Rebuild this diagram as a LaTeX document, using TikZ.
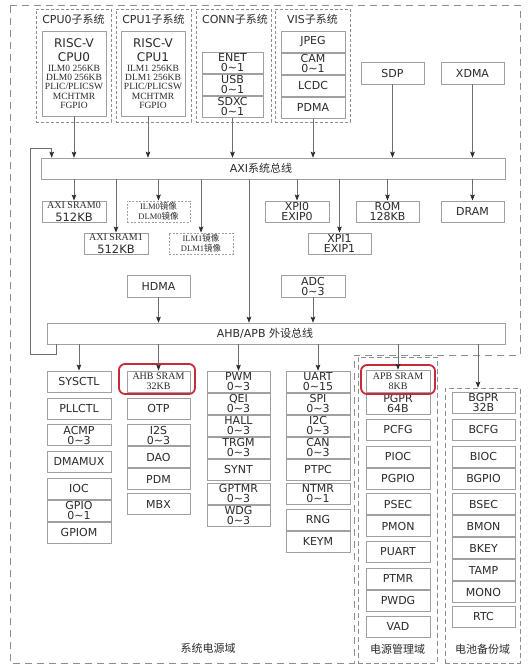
\documentclass[tikz,border=0pt]{standalone}
\usepackage{fontspec}
\setmainfont{DejaVu Sans}
\newfontfamily\cjk{Noto Sans CJK SC}
\newfontfamily\thinserif{Liberation Serif}
\usetikzlibrary{arrows.meta,positioning}
\definecolor{socink}{HTML}{2B2B2B}
\definecolor{socline}{HTML}{A0A0A0}
\definecolor{socwire}{HTML}{6E6E6E}
\definecolor{socdash}{HTML}{8E8E8E}
\definecolor{socred}{HTML}{C62B3B}
\newcommand{\upto}[1]{0\textasciitilde#1}
\newcommand{\tightlines}{\lineskiplimit-20pt\relax}
\newcommand{\thinfont}{\thinserif\fontsize{10}{9}\selectfont}
\newcommand{\cpufont}{\normalfont\fontsize{12}{15}\selectfont}

\begin{document}
\begin{tikzpicture}[
  x=1pt, y=-1pt,
  font=\fontsize{11}{10}\selectfont,
  box/.style={draw=socline, fill=white, text=socink, line width=0.6pt,
    minimum width=64pt, minimum height=21.4pt, inner sep=0pt, align=center,
    font=\fontsize{11}{10}\selectfont\tightlines},
  thinbox/.style={box, font=\thinserif\fontsize{10}{10}\selectfont\tightlines},
  cpubox/.style={box, minimum height=85pt, font=\thinserif\fontsize{9.5}{9}\selectfont\tightlines},
  mirrorbox/.style={box, dash pattern=on 2pt off 1.5pt,
    font=\thinserif\fontsize{8.5}{10}\selectfont\tightlines},
  redring/.style={draw=socred, line width=1.8pt, rounded corners=6pt, inner sep=0pt},
  bus/.style={draw=socline, fill=white, line width=0.6pt, minimum height=21pt, inner sep=0pt},
  bustext/.style={text=socink, inner sep=0pt, font=\fontsize{11}{11}\selectfont},
  subsys/.style={draw=socdash, line width=0.6pt, dash pattern=on 3pt off 2pt,
    minimum width=75pt, minimum height=113pt, inner sep=0pt},
  powerdom/.style={draw=socdash, line width=0.6pt, dash pattern=on 5pt off 3pt, inner sep=0pt},
  caption/.style={text=socink, inner sep=0pt, font=\fontsize{11}{11}\selectfont},
  wire/.style={draw=socwire, line width=0.6pt,
    -{Stealth[length=6pt, width=4.6pt, inset=1.2pt, color=socink]}},
]
\useasboundingbox (0,0) rectangle (531,671);

% ===== power domains =====
\draw[socdash, line width=0.6pt, dash pattern=on 7pt off 5pt]
  (10,5) -- (520,5) -- (520,355) -- (354,355) -- (354,663) -- (10,663) -- cycle;
\node[powerdom, minimum width=79pt, minimum height=306pt] (pmdom) at (397.5,510) {};
\node[powerdom, minimum width=75pt, minimum height=275pt] (batdom) at (482.5,525.5) {};
\node[caption] (syscap) at (208,648) {\cjk 系统电源域};
\node[caption] (pmcap) at (397.5,649) {\cjk 电源管理域};
\node[caption] (batcap) at (482.5,649) {\cjk 电池备份域};

% ===== subsystems =====
\node[subsys] (cpu0sys) at (73.5,65.5) {};
\node[subsys] (cpu1sys) at (153.5,65.5) {};
\node[subsys] (connsys) at (233.5,65.5) {};
\node[subsys] (vissys) at (312.5,65.5) {};
\node[caption] (cpu0cap) at (73.5,19) {CPU0{\cjk 子系统}};
\node[caption] (cpu1cap) at (153.5,19) {CPU1{\cjk 子系统}};
\node[caption] (conncap) at (235,19) {CONN{\cjk 子系统}};
\node[caption] (viscap) at (312.5,19) {VIS{\cjk 子系统}};

\node[cpubox] (cpu0) at (74,73.5)
  {{\cpufont RISC-V}\\[5pt]{\cpufont CPU0}\\[1pt]ILM0 256KB\\DLM0 256KB\\PLIC/PLICSW\\[0.5pt]MCHTMR\\FGPIO};
\node[cpubox] (cpu1) at (153,73.5)
  {{\cpufont RISC-V}\\[5pt]{\cpufont CPU1}\\[1pt]ILM1 256KB\\DLM1 256KB\\PLIC/PLICSW\\[0.5pt]MCHTMR\\FGPIO};

\node[box, minimum width=61pt] (enet) at (232.5,62.7) {ENET\\\upto1};
\node[box, minimum width=61pt, below=0pt of enet] (usb) {USB\\\upto1};
\node[box, minimum width=61pt, below=0pt of usb] (sdxc) {SDXC\\\upto1};

\node[box] (jpeg) at (313,41.7) {JPEG};
\node[box, below=0pt of jpeg] (cam) {CAM\\\upto1};
\node[box, below=0pt of cam] (lcdc) {LCDC};
\node[box, below=0pt of lcdc] (pdma) {PDMA};

\node[box, minimum width=63pt, minimum height=22pt] (sdp) at (392.5,73) {SDP};
\node[box, minimum width=63pt, minimum height=22pt] (xdma) at (472.5,73) {XDMA};

% ===== AXI bus =====
\node[bus, minimum width=464pt] (axibus) at (273,168.5) {};
\node[bustext] (axitext) at ([xshift=-12pt]axibus.center) {AXI{\cjk 系统总线}};

\node[box] (sram0) at (74,211.5) {{\thinfont AXI SRAM0}\\[3pt]{\fontsize{11.5}{10}\selectfont 512KB}};
\node[box] (sram1) at (116,243.5) {{\thinfont AXI SRAM1}\\[3pt]{\fontsize{11.5}{10}\selectfont 512KB}};
\node[mirrorbox, minimum width=63pt] (ilm0) at (158.5,211.5) {ILM0{\cjk 镜像}\\DLM0{\cjk 镜像}};
\node[mirrorbox] (ilm1) at (201,243.5) {ILM1{\cjk 镜像}\\DLM1{\cjk 镜像}};
\node[box] (xpi0) at (297,211.5) {XPI0\\EXIP0};
\node[box, minimum width=63pt] (xpi1) at (339.5,243.5) {XPI1\\EXIP1};
\node[box, minimum width=63pt] (rom) at (387.5,211.5) {ROM\\128KB};
\node[box, minimum width=63pt] (dram) at (472.5,211.5) {DRAM};

\node[box, minimum width=63pt, minimum height=22pt] (hdma) at (158.5,286) {HDMA};
\node[box, minimum height=22pt] (adc) at (313,286) {ADC\\\upto3};

% ===== AHB/APB bus =====
\node[bus, minimum width=458pt] (ahbbus) at (276,333.5) {};
\node[bustext] (ahbtext) at ([xshift=-11pt]ahbbus.center) {AHB/APB {\cjk 外设总线}};

% column 1
\node[box] (sysctl) at (79,381.5) {SYSCTL};
\node[box] (pllctl) at (79,408.5) {PLLCTL};
\node[box] (acmp) at (79,435) {ACMP\\\upto3};
\node[box] (dmamux) at (79,461.5) {DMAMUX};
\node[box] (ioc) at (79,488.8) {IOC};
\node[box, below=0pt of ioc] (gpio) {GPIO\\\upto1};
\node[box, below=0pt of gpio] (gpiom) {GPIOM};

% column 2
\node[thinbox, minimum width=63pt] (ahbsram) at (158.5,381.5) {AHB SRAM\\32KB};
\node[box, minimum width=63pt] (otp) at (158.5,408.5) {OTP};
\node[box, minimum width=63pt] (i2s) at (158.5,435) {I2S\\\upto3};
\node[box, minimum width=63pt, below=0pt of i2s] (dao) {DAO};
\node[box, minimum width=63pt, below=0pt of dao] (pdm) {PDM};
\node[box, minimum width=63pt] (mbx) at (158.5,504) {MBX};

% column 3
\node[box, minimum width=63pt] (pwm) at (238.5,381.7) {PWM\\\upto3};
\node[box, minimum width=63pt, below=0pt of pwm] (qei) {QEI\\\upto3};
\node[box, minimum width=63pt, below=0pt of qei] (hall) {HALL\\\upto3};
\node[box, minimum width=63pt, below=0pt of hall] (trgm) {TRGM\\\upto3};
\node[box, minimum width=63pt, below=0pt of trgm] (synt) {SYNT};
\node[box, minimum width=63pt] (gptmr) at (238.5,493.7) {GPTMR\\\upto3};
\node[box, minimum width=63pt, below=0pt of gptmr] (wdg) {WDG\\\upto3};

% column 4
\node[box] (uart) at (318,381.7) {UART\\\upto{15}};
\node[box, below=0pt of uart] (spi) {SPI\\\upto3};
\node[box, below=0pt of spi] (i2c) {I2C\\\upto3};
\node[box, below=0pt of i2c] (can) {CAN\\\upto3};
\node[box, below=0pt of can] (ptpc) {PTPC};
\node[box] (ntmr) at (318,493.7) {NTMR\\\upto1};
\node[box] (rng) at (318,519.7) {RNG};
\node[box, below=0pt of rng] (keym) {KEYM};

% power management domain
\node[thinbox, minimum height=22pt] (apbsram) at (398,381) {APB SRAM\\8KB};
\node[box, below=0pt of apbsram] (pgpr) {PGPR\\64B};
\node[box] (pcfg) at (398,429.5) {PCFG};
\node[box] (pioc) at (398,456.5) {PIOC};
\node[box, below=0pt of pioc] (pgpio) {PGPIO};
\node[box] (psec) at (398,504) {PSEC};
\node[box, below=0pt of psec] (pmon) {PMON};
\node[box] (puart) at (398,552) {PUART};
\node[box] (ptmr) at (398,578.5) {PTMR};
\node[box, below=0pt of ptmr] (pwdg) {PWDG};
\node[box] (vad) at (398,626.5) {VAD};

% battery backup domain
\node[box, minimum width=63pt] (bgpr) at (483.5,402.5) {BGPR\\32B};
\node[box, minimum width=63pt] (bcfg) at (483.5,429.5) {BCFG};
\node[box, minimum width=63pt] (bioc) at (483.5,456.5) {BIOC};
\node[box, minimum width=63pt, below=0pt of bioc] (bgpio) {BGPIO};
\node[box, minimum width=63pt] (bsec) at (483.5,504) {BSEC};
\node[box, minimum width=63pt, below=0pt of bsec] (bmon) {BMON};
\node[box, minimum width=63pt, below=0pt of bmon] (bkey) {BKEY};
\node[box, minimum width=63pt, below=0pt of bkey] (tamp) {TAMP};
\node[box, minimum width=63pt, below=0pt of tamp] (mono) {MONO};
\node[box, minimum width=63pt] (rtc) at (483.5,616.5) {RTC};

% highlights
\node[redring, minimum width=76pt, minimum height=30pt] (ahbring) at (157,379) {};
\node[redring, minimum width=74pt, minimum height=29pt] (apbring) at (398,379.5) {};

% ===== connectors into the AXI bus =====
\coordinate (cpu1out) at ([xshift=-5pt]cpu1.south);
\draw[wire] (cpu0.south) -- (cpu0.south |- axibus.north);
\draw[wire] (cpu1out) -- (cpu1out |- axibus.north);
\draw[wire] (sdxc.south) -- (sdxc.south |- axibus.north);
\draw[wire] (pdma.south) -- (pdma.south |- axibus.north);
\draw[wire] (sdp.south) -- (sdp.south |- axibus.north);
\draw[wire] (xdma.south) -- (xdma.south |- axibus.north);

% loop back from the AHB bus
\coordinate (loopstart) at ([xshift=10pt]ahbbus.south west);
\coordinate (loopend) at ([xshift=11pt]axibus.north west);
\draw[wire] (loopstart) -- ++(0,10) -| ++(-26,-206) -| (loopend);

% ===== out of the AXI bus =====
\draw[wire] (sram0.north |- axibus.south) -- (sram0.north);
\draw[wire] (sram1.north |- axibus.south) -- (sram1.north);
\draw[wire] (ilm0.north |- axibus.south) -- (ilm0.north);
\draw[wire] (ilm1.north |- axibus.south) -- (ilm1.north);
\draw[wire] (xpi0.north |- axibus.south) -- (xpi0.north);
\draw[wire] (xpi1.north |- axibus.south) -- (xpi1.north);
\draw[wire] (rom.north |- axibus.south) -- (rom.north);
\draw[wire] (dram.north |- axibus.south) -- (dram.north);

\coordinate (bridge) at (249,250);
\draw[wire] (bridge |- axibus.south) -- (bridge |- ahbbus.north);
\draw[wire] (hdma.south) -- (hdma.south |- ahbbus.north);
\draw[wire] (adc.south) -- (adc.south |- ahbbus.north);

% ===== out of the AHB/APB bus =====
\draw[wire] (sysctl.north |- ahbbus.south) -- (sysctl.north);
\draw[wire] (ahbsram.north |- ahbbus.south) -- (ahbsram.north);
\draw[wire] (pwm.north |- ahbbus.south) -- (pwm.north);
\draw[wire] (uart.north |- ahbbus.south) -- (uart.north);
\draw[wire] (apbsram.north |- ahbbus.south) -- (apbsram.north);
\coordinate (batin) at ([xshift=-4.5pt]batdom.north);
\draw[wire] (batin |- ahbbus.south) -- (batin);

\end{tikzpicture}
\end{document}
